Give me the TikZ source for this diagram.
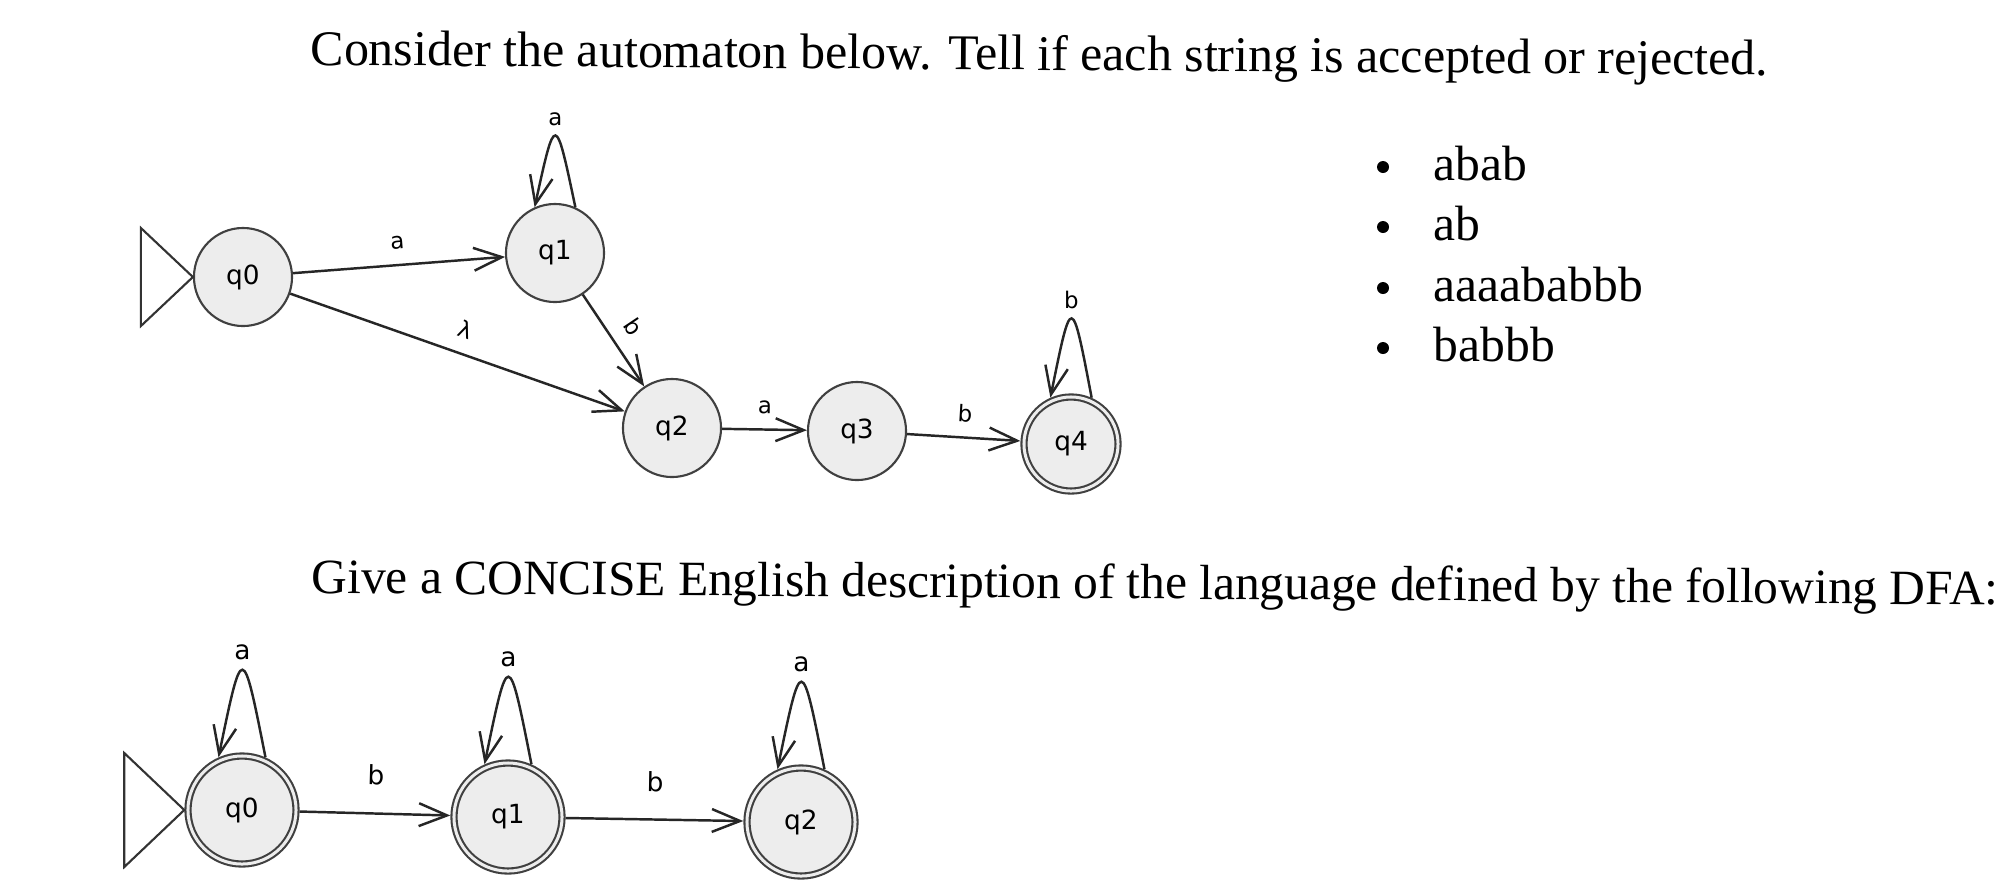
\documentclass[tikz,border=0pt]{standalone}
\usepackage{fontspec}
\setmainfont{Liberation Serif}
\newfontfamily\jflap{DejaVu Sans}
\usetikzlibrary{arrows.meta}

\begin{document}
\begin{tikzpicture}[x=0.01cm, y=0.01cm,
  state/.style={circle, draw=black!75, fill=black!7, line width=0.6pt,
                minimum size=0.98cm, inner sep=0pt,
                font=\jflap\fontsize{7.5}{9}\selectfont},
  accept/.style={state, double=black!7, double distance=0.03cm, outer sep=1.05pt},
  trans/.style={draw=black!85, line width=0.7pt,
                -{Straight Barb[length=8pt, width=6.5pt]}},
  sym/.style={font=\jflap\fontsize{6.5}{8}\selectfont, sloped, above=3pt, inner sep=1pt},
  looplbl/.style={font=\jflap\fontsize{6.5}{8}\selectfont, pos=0.5, above=1.5pt, inner sep=1pt},
  prose/.style={anchor=base west, inner sep=0pt, rotate=-0.4,
                font=\fontsize{14.2}{17}\selectfont},
  item/.style={anchor=base west, inner sep=0pt, font=\fontsize{14.1}{17}\selectfont},
]
  \useasboundingbox (0,0) rectangle (2003,-893);

  % question texts
  \node[prose] (ask1) at (310,-65) {Consider the automaton below. Tell if each string is accepted or rejected.};
  \node[prose, font=\fontsize{14.05}{17}\selectfont] (ask2) at (311,-593) {Give a CONCISE English description of the language defined by the following DFA:};

  % strings to test
  \node[item] (s1) at (1433,-180) {abab};
  \node[item] (s2) at (1433,-240) {ab};
  \node[item] (s3) at (1433,-301) {aaaababbb};
  \node[item] (s4) at (1433,-361) {babbb};
  \foreach \s in {s1,s2,s3,s4}
    \fill ([shift={(-50,13)}]\s.base west) circle (6);

  % first automaton
  \node[state] (q0) at (243,-277) {q0};
  \node[state] (q1) at (555,-253) {q1};
  \node[state] (q2) at (672,-428) {q2};
  \node[state] (q3) at (857,-431) {q3};
  \node[accept, minimum size=0.94cm] (q4) at (1071,-444) {q4};

  \draw[draw=black!80, line width=0.6pt] (q0.west) -- ++(-52,49) -- ++(0,-98) -- cycle;

  \draw[trans] (q0) -- (q1) node[sym, midway] {a};
  \draw[trans] (q0) -- (q2) node[sym, midway] {λ};
  \draw[trans] (q1) -- (q2) node[sym, midway] {b};
  \draw[trans] (q2) -- (q3) node[sym, midway] {a};
  \draw[trans] (q3) -- (q4) node[sym, midway] {b};
  \draw[trans] (q1.66) .. controls +(-20,95) .. (q1.114) node[looplbl] {a};
  \draw[trans] (q4.66) .. controls +(-20,105) .. (q4.114) node[looplbl] {b};

  % second automaton
  \begin{scope}[every node/.append style={font=\jflap\fontsize{8.5}{10}\selectfont}]
    \node[accept, minimum size=1.08cm] (p0) at (242,-810) {q0};
    \node[accept, minimum size=1.08cm] (p1) at (508,-817) {q1};
    \node[accept, minimum size=1.08cm] (p2) at (801,-822) {q2};
  \end{scope}

  \draw[draw=black!80, line width=0.6pt] (p0.west) -- ++(-60,57) -- ++(0,-114) -- cycle;

  \draw[trans] (p0) -- (p1) node[sym, midway, above=3.6pt, font=\jflap\fontsize{7.5}{9}\selectfont] {b};
  \draw[trans] (p1) -- (p2) node[sym, midway, above=3.6pt, font=\jflap\fontsize{7.5}{9}\selectfont] {b};
  \foreach \n in {p0,p1,p2}
    \draw[trans] (\n.66) .. controls +(-23,116) .. (\n.114)
      node[looplbl, font=\jflap\fontsize{7.5}{9}\selectfont] {a};
\end{tikzpicture}
\end{document}
